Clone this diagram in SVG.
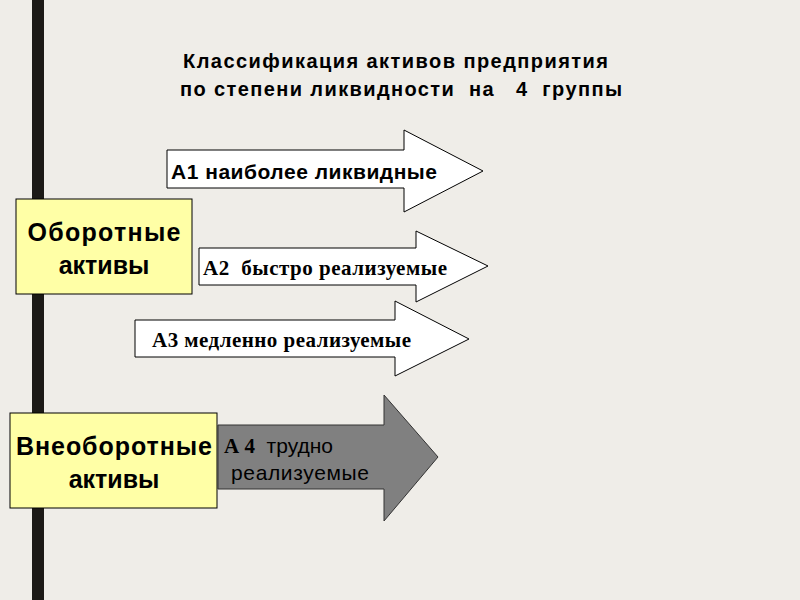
<svg xmlns="http://www.w3.org/2000/svg" width="800" height="600" viewBox="0 0 800 600">
<style>
.arr{fill:#fff;stroke:#000;stroke-width:1}
.box{fill:#ffffa6;stroke:#000;stroke-width:1}
.s{font-family:"Liberation Sans",Arial,sans-serif;fill:#000}
.r{font-family:"Liberation Serif","Times New Roman",serif;font-weight:bold;fill:#000}
</style>
<rect width="800" height="600" fill="#efede8"/>
<rect x="32" y="0" width="12" height="600" fill="#1c1a17"/>
<g id="title">
<text class="s" x="183" y="68" font-size="20" font-weight="bold" textLength="425">Классификация активов предприятия</text>
<text class="s" x="180" y="96" font-size="20" font-weight="bold" textLength="442" xml:space="preserve">по степени ликвидности  на   4  группы</text>
</g>
<g id="connectors">
<g id="a1"><polygon class="arr" points="167,150 404,150 404,130 483,171 404,212 404,188 167,188"/>
<text class="s" x="171" y="179" font-size="21" font-weight="bold" textLength="266">А1 наиболее ликвидные</text></g>
<g id="a2"><polygon class="arr" points="199,248 416,248 416,231 488,266 416,302 416,285 199,285"/>
<text class="r" x="203" y="275" font-size="21" textLength="244" xml:space="preserve">А2  быстро реализуемые</text></g>
<g id="a3"><polygon class="arr" points="135,320 395,320 395,301 469,339 395,376 395,357 135,357"/>
<text class="r" x="152" y="347" font-size="21" textLength="259">А3 медленно реализуемые</text></g>
<g id="a4"><polygon points="218,425 384,425 384,395 438,457 384,521 384,489 218,489" fill="#808080" stroke="#333"/>
<text x="224" y="453" font-size="21" xml:space="preserve"><tspan class="r">А 4</tspan><tspan class="s">  трудно</tspan></text>
<text class="s" x="231" y="480" font-size="21" textLength="138">реализуемые</text></g>
</g>
<g id="box1"><rect class="box" x="16" y="199" width="176" height="95"/>
<text class="s" x="104" y="241" font-size="25" font-weight="bold" text-anchor="middle" textLength="153">Оборотные</text>
<text class="s" x="104" y="274" font-size="25" font-weight="bold" text-anchor="middle">активы</text></g>
<g id="box2"><rect class="box" x="10" y="413" width="207" height="95"/>
<text class="s" x="114" y="455" font-size="25" font-weight="bold" text-anchor="middle" textLength="196">Внеоборотные</text>
<text class="s" x="114" y="488" font-size="25" font-weight="bold" text-anchor="middle">активы</text></g>
</svg>
